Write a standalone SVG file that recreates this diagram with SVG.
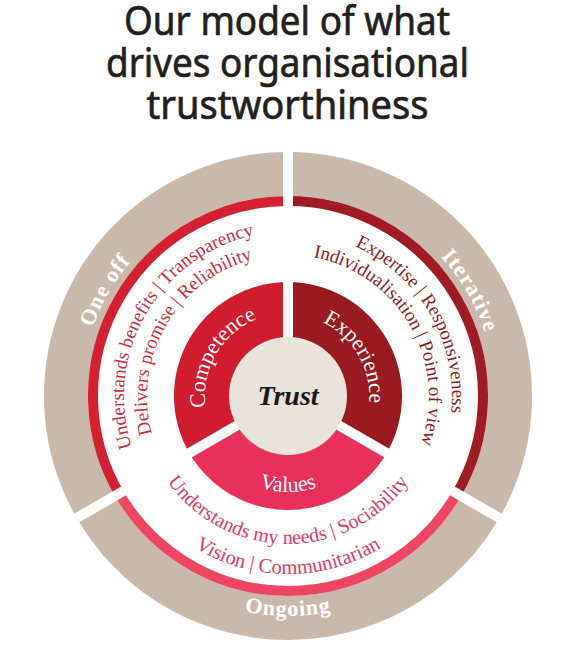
<svg xmlns="http://www.w3.org/2000/svg" width="574" height="666" viewBox="0 0 574 666">
<style>
.title{font-family:"Noto Sans","Open Sans",sans-serif;font-size:40px;fill:#231f20;stroke:#231f20;stroke-width:0.7px;text-anchor:middle}
.ring{font-family:"Liberation Serif",serif;font-weight:bold;font-size:22px;fill:#fff;letter-spacing:1px}
.seg{font-family:"Liberation Serif",serif;font-size:22px;fill:#fff}
.attr{font-family:"Liberation Serif",serif;font-size:19px}
.c{fill:#d02a3b}.e{fill:#8e1c24}.v{fill:#e53a5d}
.gap{stroke:#fff;stroke-width:10}
.band{fill:none;stroke-width:10}
</style>
<defs>
<path id="pOneOff" d="M184 576.13 A208 208 0 0 1 392 215.87"/>
<path id="pIter" d="M184 215.87 A208 208 0 0 1 392 576.13"/>
<path id="pOngo" d="M68 396 A220 220 0 0 0 508 396"/>
<path id="pL1" d="M205.5 538.89 A165 165 0 0 1 370.5 253.11"/>
<path id="pL2" d="M217 518.97 A142 142 0 0 1 359 273.03"/>
<path id="pR1" d="M205.5 253.11 A165 165 0 0 1 370.5 538.89"/>
<path id="pR2" d="M217 273.03 A142 142 0 0 1 359 518.97"/>
<path id="pB1" d="M140 396 A148 148 0 0 0 436 396"/>
<path id="pB2" d="M110 396 A178 178 0 0 0 466 396"/>
<path id="pComp" d="M246 468.74 A84 84 0 0 1 330 323.26"/>
<path id="pExp" d="M247 324.99 A82 82 0 0 1 329 467.01"/>
<path id="pVal" d="M192 396 A96 96 0 0 0 384 396"/>
</defs>
<rect width="574" height="666" fill="#fff"/>
<g id="title">
<text class="title" x="287" y="35" textLength="326" lengthAdjust="spacingAndGlyphs">Our model of what</text>
<text class="title" x="287.5" y="77" textLength="363" lengthAdjust="spacingAndGlyphs">drives organisational</text>
<text class="title" x="287.5" y="119" textLength="282" lengthAdjust="spacingAndGlyphs">trustworthiness</text>
</g>
<g id="outer-ring">
<circle cx="288" cy="396" r="222" fill="none" stroke="#c9b9ab" stroke-width="44"/>
<text class="ring"><textPath href="#pOneOff" startOffset="50%" text-anchor="middle">One off</textPath></text>
<text class="ring"><textPath href="#pIter" startOffset="50%" text-anchor="middle">Iterative</textPath></text>
<text class="ring"><textPath href="#pOngo" startOffset="50%" text-anchor="middle">Ongoing</textPath></text>
</g>
<g id="competence">
<path class="band" stroke="#d42031" d="M119.13 493.5 A195 195 0 0 1 288 201"/>
<path fill="#d01c2e" d="M288 396 L189.27 453 A114 114 0 0 1 288 282 Z"/>
<text class="seg"><textPath href="#pComp" startOffset="50%" text-anchor="middle">Competence</textPath></text>
<text class="attr c"><textPath href="#pL1" startOffset="50%" text-anchor="middle">Understands benefits | Transparency</textPath></text>
<text class="attr c"><textPath href="#pL2" startOffset="50%" text-anchor="middle">Delivers promise | Reliability</textPath></text>
</g>
<g id="experience">
<path class="band" stroke="#a01b25" d="M288 201 A195 195 0 0 1 456.87 493.5"/>
<path fill="#9a1a22" d="M288 396 L288 282 A114 114 0 0 1 386.73 453 Z"/>
<text class="seg"><textPath href="#pExp" startOffset="50%" text-anchor="middle">Experience</textPath></text>
<text class="attr e"><textPath href="#pR1" startOffset="50%" text-anchor="middle">Expertise | Responsiveness</textPath></text>
<text class="attr e"><textPath href="#pR2" startOffset="50%" text-anchor="middle">Individualisation | Point of view</textPath></text>
</g>
<g id="values">
<path class="band" stroke="#ee4563" d="M456.87 493.5 A195 195 0 0 1 119.13 493.5"/>
<path fill="#e8305a" d="M288 396 L386.73 453 A114 114 0 0 1 189.27 453 Z"/>
<text class="seg"><textPath href="#pVal" startOffset="50%" text-anchor="middle">Values</textPath></text>
<text class="attr v" style="font-size:20px"><textPath href="#pB1" startOffset="50%" text-anchor="middle">Understands my needs | Sociability</textPath></text>
<text class="attr v" style="font-size:20.5px"><textPath href="#pB2" startOffset="50%" text-anchor="middle">Vision | Communitarian</textPath></text>
</g>
<g id="connectors">
<line class="gap" x1="288" y1="396" x2="288" y2="140"/>
<line class="gap" x1="288" y1="396" x2="504.5" y2="521"/>
<line class="gap" x1="288" y1="396" x2="71.5" y2="521"/>
</g>
<g id="trust">
<circle cx="288" cy="396" r="59" fill="#e9e3dc"/>
<text x="288" y="405" text-anchor="middle" font-family="'Liberation Serif', serif" font-weight="bold" font-style="italic" font-size="28" fill="#1a1a1a">Trust</text>
</g>
</svg>
